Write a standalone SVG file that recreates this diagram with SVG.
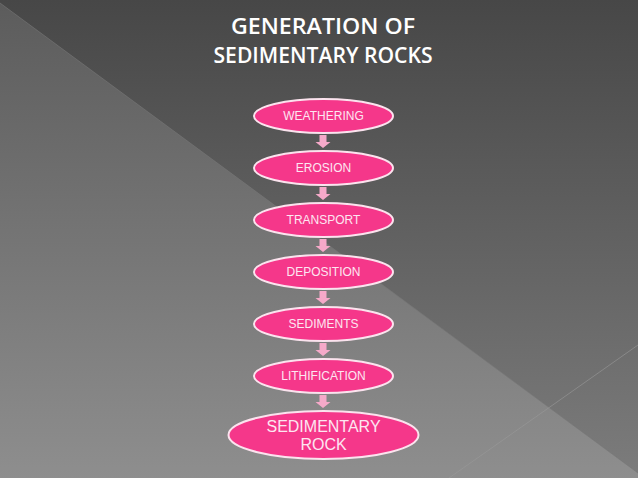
<svg xmlns="http://www.w3.org/2000/svg" width="638" height="478" viewBox="0 0 638 478">
<defs>
<linearGradient id="bgDark" x1="0" y1="0" x2="0" y2="1">
<stop offset="0" stop-color="#474747"/>
<stop offset="1" stop-color="#7c7c7c"/>
</linearGradient>
<linearGradient id="bgLight" x1="0" y1="0" x2="0" y2="1">
<stop offset="0" stop-color="#5c5c5c"/>
<stop offset="1" stop-color="#8e8e8e"/>
</linearGradient>
<path id="arrow" d="M-3.5,0 H3.5 V7 H7.5 L0,13 L-7.5,7 H-3.5 Z"/>
</defs>
<style>
.node ellipse { fill: #f5378a; stroke: #fbe3ee; stroke-width: 2; }
.node text { fill: #fde6f1; font-family: "Liberation Sans", Arial, sans-serif; font-size: 12px; text-anchor: middle; }
.big text { font-size: 16px; }
.title { fill: #ffffff; font-family: "Open Sans", "Liberation Sans", sans-serif; font-weight: 600; font-size: 21px; text-anchor: middle; }
.arr { fill: #f6a9c9; }
</style>
<rect width="638" height="478" fill="url(#bgDark)"/>
<path d="M0,3 L638,473 L638,478 L0,478 Z" fill="url(#bgLight)"/>
<line x1="0" y1="3" x2="638" y2="473" stroke="#777" stroke-width="1" opacity="0.6"/>
<line x1="449" y1="478" x2="638" y2="345" stroke="#9a9a9a" stroke-width="1" opacity="0.6"/>
<text class="title" x="323" y="34" textLength="184" lengthAdjust="spacingAndGlyphs">GENERATION OF</text>
<text class="title" x="323" y="63" textLength="219" lengthAdjust="spacingAndGlyphs">SEDIMENTARY ROCKS</text>
<g id="connectors" class="arr">
<use href="#arrow" x="323" y="135"/>
<use href="#arrow" x="323" y="187"/>
<use href="#arrow" x="323" y="239"/>
<use href="#arrow" x="323" y="291"/>
<use href="#arrow" x="323" y="343"/>
<use href="#arrow" x="323" y="395"/>
</g>
<g id="weathering" class="node"><ellipse cx="323.5" cy="116" rx="69.5" ry="17"/><text x="323.5" y="120">WEATHERING</text></g>
<g id="erosion" class="node"><ellipse cx="323.5" cy="168" rx="69.5" ry="17"/><text x="323.5" y="172">EROSION</text></g>
<g id="transport" class="node"><ellipse cx="323.5" cy="220" rx="69.5" ry="17"/><text x="323.5" y="224">TRANSPORT</text></g>
<g id="deposition" class="node"><ellipse cx="323.5" cy="272" rx="69.5" ry="17"/><text x="323.5" y="276">DEPOSITION</text></g>
<g id="sediments" class="node"><ellipse cx="323.5" cy="324" rx="69.5" ry="17"/><text x="323.5" y="328">SEDIMENTS</text></g>
<g id="lithification" class="node"><ellipse cx="323.5" cy="376" rx="69.5" ry="17"/><text x="323.5" y="380">LITHIFICATION</text></g>
<g id="sedimentary-rock" class="node big"><ellipse cx="323.5" cy="435" rx="95" ry="24"/><text x="323.5" y="432">SEDIMENTARY</text><text x="323.5" y="450">ROCK</text></g>
</svg>
